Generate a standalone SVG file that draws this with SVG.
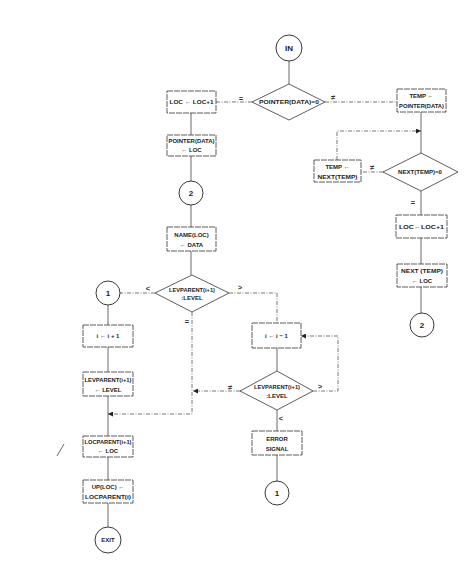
<svg xmlns="http://www.w3.org/2000/svg" width="474" height="561" viewBox="0 0 474 561">
<style>
.box{fill:#fff;stroke:#333;stroke-width:0.8;stroke-dasharray:6,1}
.dia{fill:#fff;stroke:#333;stroke-width:0.8}
.cir{fill:#fff;stroke:#222;stroke-width:0.9}
.ln{fill:none;stroke:#444;stroke-width:0.8}
.dl{fill:none;stroke:#555;stroke-width:0.8;stroke-dasharray:4,1.5,1,1.5}
.t{font-family:"Liberation Sans",Arial,sans-serif;font-weight:bold;font-size:6px;fill:#222;text-anchor:middle}
.c{font-family:"Liberation Sans",Arial,sans-serif;font-weight:bold;font-size:8px;fill:#222;text-anchor:middle}
.l{font-family:"Liberation Sans",Arial,sans-serif;font-weight:bold;font-size:7.5px;fill:#333;text-anchor:middle}
</style>
<defs>
<marker id="ah" viewBox="0 0 6 6" refX="6" refY="3" markerWidth="5" markerHeight="5" orient="auto" markerUnits="userSpaceOnUse">
<path d="M0,0 L6,3 L0,6 z" fill="#222"/>
</marker>
</defs>
<rect width="474" height="561" fill="#fff"/>
<g id="connectors">
<path class="ln" d="M289,61 V84"/>
<path class="dl" d="M252,102 H216"/>
<path class="dl" d="M325,102 H397"/>
<path class="ln" d="M421,112 V153"/>
<path class="dl" d="M337,160 V131 H421" marker-end="url(#ah)"/>
<path class="dl" d="M383,172 H361"/>
<path class="ln" d="M421,191 V215"/>
<path class="ln" d="M421,238 V264"/>
<path class="ln" d="M421,287 V313"/>
<path class="ln" d="M191,113 V135"/>
<path class="ln" d="M191,156 V181"/>
<path class="ln" d="M191,205 V227"/>
<path class="ln" d="M191,251 V275"/>
<path class="dl" d="M155,293 H120"/>
<path class="dl" d="M229,293 H277 V323"/>
<path class="dl" d="M192,312 V414 H108" marker-end="url(#ah)"/>
<path class="ln" d="M108,305 V325"/>
<path class="ln" d="M108,347 V372"/>
<path class="ln" d="M108,396 V436"/>
<path class="ln" d="M108,457 V480"/>
<path class="ln" d="M108,503 V527"/>
<path class="ln" d="M277,348 V371"/>
<path class="dl" d="M313,391 H338 V336 H301" marker-end="url(#ah)"/>
<path class="dl" d="M240,391 H193" marker-end="url(#ah)"/>
<path class="ln" d="M277,410 V431"/>
<path class="ln" d="M277,455 V481"/>
<path class="ln" d="M57,456 L64,444"/>
<text class="l" x="241" y="101">=</text>
<text class="l" x="333" y="100">≠</text>
<text class="l" x="372" y="170">≠</text>
<text class="l" x="413" y="205">=</text>
<text class="l" x="148" y="291">&lt;</text>
<text class="l" x="240" y="290">&gt;</text>
<text class="l" x="187" y="324">=</text>
<text class="l" x="230" y="390">≠</text>
<text class="l" x="320" y="389">&gt;</text>
<text class="l" x="281" y="421">&lt;</text>
</g>
<g id="n-in"><circle class="cir" cx="289" cy="48" r="13"/><text class="c" x="289" y="51">IN</text></g>
<g id="n-d1"><polygon class="dia" points="252,102 289,84 325,102 289,120"/><text class="t" x="289" y="104" textLength="60" lengthAdjust="spacingAndGlyphs">POINTER(DATA)=0</text></g>
<g id="n-loc1"><rect class="box" x="167" y="91" width="49" height="22"/><text class="t" x="191.5" y="104" textLength="44" lengthAdjust="spacingAndGlyphs">LOC ← LOC+1</text></g>
<g id="n-temp1"><rect class="box" x="397" y="89" width="49" height="23"/><text class="t" x="421.5" y="98">TEMP ←</text><text class="t" x="421.5" y="108" textLength="45" lengthAdjust="spacingAndGlyphs">POINTER(DATA)</text></g>
<g id="n-d2"><polygon class="dia" points="383,172 421,153 458,172 421,191"/><text class="t" x="420" y="174" textLength="44" lengthAdjust="spacingAndGlyphs">NEXT(TEMP)=0</text></g>
<g id="n-temp2"><rect class="box" x="314" y="160" width="47" height="22"/><text class="t" x="337.5" y="169">TEMP ←</text><text class="t" x="337.5" y="179" textLength="40" lengthAdjust="spacingAndGlyphs">NEXT(TEMP)</text></g>
<g id="n-loc2"><rect class="box" x="396" y="215" width="51" height="23"/><text class="t" x="421.5" y="229" textLength="45" lengthAdjust="spacingAndGlyphs">LOC←LOC+1</text></g>
<g id="n-next"><rect class="box" x="397" y="264" width="50" height="23"/><text class="t" x="422" y="273" textLength="42" lengthAdjust="spacingAndGlyphs">NEXT (TEMP)</text><text class="t" x="422" y="283">←   LOC</text></g>
<g id="n-c2r"><circle class="cir" cx="422" cy="325" r="12"/><text class="c" x="422" y="328">2</text></g>
<g id="n-ptr"><rect class="box" x="167" y="135" width="49" height="21"/><text class="t" x="191.5" y="143" textLength="46" lengthAdjust="spacingAndGlyphs">POINTER(DATA)</text><text class="t" x="191.5" y="152">← LOC</text></g>
<g id="n-c2l"><circle class="cir" cx="191" cy="193" r="12"/><text class="c" x="191" y="196">2</text></g>
<g id="n-name"><rect class="box" x="167" y="227" width="49" height="24"/><text class="t" x="191.5" y="237">NAME(LOC)</text><text class="t" x="191.5" y="247">←  DATA</text></g>
<g id="n-d3"><polygon class="dia" points="155,293 192,275 229,293 192,312"/><text class="t" x="192" y="292" textLength="46" lengthAdjust="spacingAndGlyphs">LEVPARENT(i+1)</text><text class="t" x="192" y="300">:LEVEL</text></g>
<g id="n-c1l"><circle class="cir" cx="108" cy="293" r="12"/><text class="c" x="108" y="296">1</text></g>
<g id="n-inc"><rect class="box" x="83" y="325" width="50" height="22"/><text class="t" x="108" y="338">i ←  i + 1</text></g>
<g id="n-lev"><rect class="box" x="83" y="372" width="50" height="24"/><text class="t" x="108" y="382" textLength="47" lengthAdjust="spacingAndGlyphs">LEVPARENT(i+1)</text><text class="t" x="108" y="392">←  LEVEL</text></g>
<g id="n-locp"><rect class="box" x="83" y="436" width="50" height="21"/><text class="t" x="108" y="444" textLength="47" lengthAdjust="spacingAndGlyphs">LOCPARENT(i+1)</text><text class="t" x="108" y="453">←  LOC</text></g>
<g id="n-up"><rect class="box" x="83" y="480" width="50" height="23"/><text class="t" x="108" y="489">UP(LOC) ←</text><text class="t" x="108" y="499" textLength="46" lengthAdjust="spacingAndGlyphs">LOCPARENT(i)</text></g>
<g id="n-exit"><circle class="cir" cx="108" cy="540" r="13"/><text class="t" x="108" y="542">EXIT</text></g>
<g id="n-dec"><rect class="box" x="252" y="323" width="49" height="25"/><text class="t" x="276.5" y="338">i ←  i  − 1</text></g>
<g id="n-d4"><polygon class="dia" points="240,391 277,371 313,391 277,410"/><text class="t" x="277" y="389" textLength="46" lengthAdjust="spacingAndGlyphs">LEVPARENT(i+1)</text><text class="t" x="277" y="398">:LEVEL</text></g>
<g id="n-err"><rect class="box" x="252" y="431" width="50" height="24"/><text class="t" x="277" y="441">ERROR</text><text class="t" x="277" y="451">SIGNAL</text></g>
<g id="n-c1b"><circle class="cir" cx="277" cy="493" r="12"/><text class="c" x="277" y="496">1</text></g>
</svg>
